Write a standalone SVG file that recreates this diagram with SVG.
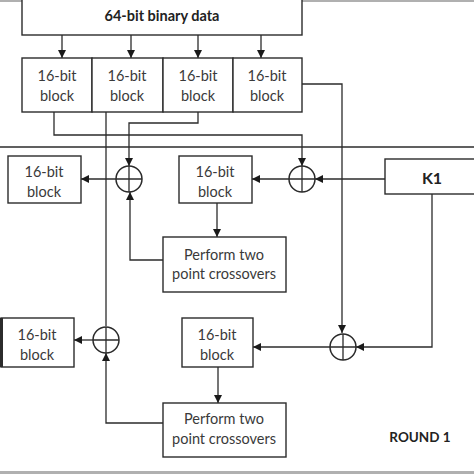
<svg xmlns="http://www.w3.org/2000/svg" width="474" height="474" viewBox="0 0 474 474">
  <style>
    .box { fill: #ffffff; stroke: #2b2b2b; stroke-width: 1.4; }
    .wire { fill: none; stroke: #2b2b2b; stroke-width: 1.3; }
    .arr { marker-end: url(#head); }
    .xor { fill: #ffffff; stroke: #2b2b2b; stroke-width: 1.5; }
    .lbl { font-family: Lato, "Open Sans", "Liberation Sans", sans-serif; font-size: 14.5px; fill: #3a3a3a; text-anchor: middle; }
    .bold { font-weight: bold; fill: #222222; }
  </style>
  <defs>
    <marker id="head" viewBox="0 0 10 10" refX="10" refY="5" markerWidth="8" markerHeight="8" markerUnits="userSpaceOnUse" orient="auto">
      <path d="M0,0 L10,5 L0,10 z" fill="#1a1a1a"/>
    </marker>
  </defs>
  <rect width="474" height="474" fill="#ffffff"/>
  <!-- frame bands -->
  <rect x="0" y="0" width="474" height="2" fill="#b0b0b0"/>
  <rect x="0" y="471" width="474" height="3" fill="#b0b0b0"/>
  <!-- round separator -->
  <line x1="0" y1="147" x2="474" y2="147" stroke="#2b2b2b" stroke-width="1.3"/>

  <g id="connectors">
    <!-- data to blocks -->
    <line class="wire arr" x1="62" y1="35" x2="62" y2="58"/>
    <line class="wire arr" x1="131" y1="35" x2="131" y2="58"/>
    <line class="wire arr" x1="198" y1="35" x2="198" y2="58"/>
    <line class="wire arr" x1="261" y1="35" x2="261" y2="58"/>
    <!-- block 1 to upper right xor -->
    <polyline class="wire arr" points="54,112 54,135 302,135 302,166"/>
    <!-- block 3 to upper left xor -->
    <polyline class="wire arr" points="198,112 198,123 129,123 129,166"/>
    <!-- block 2 to lower left xor -->
    <line class="wire" x1="106" y1="112" x2="106" y2="326"/>
    <!-- block 4 to lower right xor -->
    <polyline class="wire arr" points="302,84 342,84 342,333"/>
    <!-- K1 to upper right xor -->
    <line class="wire arr" x1="385" y1="179" x2="315" y2="179"/>
    <!-- K1 to lower right xor -->
    <polyline class="wire arr" points="432,194 432,347 356,347"/>
    <!-- upper xors -->
    <line class="wire arr" x1="289" y1="179" x2="252" y2="179"/>
    <line class="wire arr" x1="116" y1="179" x2="81" y2="179"/>
    <line class="wire arr" x1="217" y1="203" x2="217" y2="237"/>
    <polyline class="wire arr" points="163,260 130,260 130,192"/>
    <!-- lower xors -->
    <line class="wire arr" x1="330" y1="347" x2="253" y2="347"/>
    <line class="wire arr" x1="93" y1="340" x2="74" y2="340"/>
    <line class="wire arr" x1="218" y1="367" x2="218" y2="403"/>
    <polyline class="wire arr" points="163,423 106,423 106,353"/>
  </g>

  <g id="data">
    <rect class="box" x="22" y="-2" width="280" height="37"/>
    <text class="lbl bold" x="162" y="21">64-bit binary data</text>
  </g>
  <g id="block-a">
    <rect class="box" x="22" y="58" width="70" height="54"/>
    <text class="lbl" x="57" y="81">16-bit</text>
    <text class="lbl" x="57" y="101">block</text>
  </g>
  <g id="block-b">
    <rect class="box" x="92" y="58" width="71" height="54"/>
    <text class="lbl" x="127" y="81">16-bit</text>
    <text class="lbl" x="127" y="101">block</text>
  </g>
  <g id="block-c">
    <rect class="box" x="163" y="58" width="70" height="54"/>
    <text class="lbl" x="198" y="81">16-bit</text>
    <text class="lbl" x="198" y="101">block</text>
  </g>
  <g id="block-d">
    <rect class="box" x="233" y="58" width="69" height="54"/>
    <text class="lbl" x="267" y="81">16-bit</text>
    <text class="lbl" x="267" y="101">block</text>
  </g>

  <g id="key">
    <rect class="box" x="385" y="159" width="95" height="35"/>
    <text class="lbl bold" x="432" y="184" style="font-size:16px">K1</text>
  </g>

  <g id="xor-1">
    <circle class="xor" cx="129" cy="179" r="13"/>
    <path class="wire" d="M116,179 H142 M129,166 V192"/>
  </g>
  <g id="xor-2">
    <circle class="xor" cx="302" cy="179" r="13"/>
    <path class="wire" d="M289,179 H315 M302,166 V192"/>
  </g>
  <g id="xor-3">
    <circle class="xor" cx="343" cy="347" r="13"/>
    <path class="wire" d="M330,347 H356 M343,334 V360"/>
  </g>
  <g id="xor-4">
    <circle class="xor" cx="106" cy="340" r="13"/>
    <path class="wire" d="M93,340 H119 M106,327 V353"/>
  </g>

  <g id="out-block-1">
    <rect class="box" x="8" y="156" width="73" height="47"/>
    <text class="lbl" x="44" y="177">16-bit</text>
    <text class="lbl" x="44" y="197">block</text>
  </g>
  <g id="mid-block-1">
    <rect class="box" x="179" y="156" width="73" height="47"/>
    <text class="lbl" x="215" y="177">16-bit</text>
    <text class="lbl" x="215" y="197">block</text>
  </g>
  <g id="crossover-1">
    <rect class="box" x="163" y="237" width="123" height="55"/>
    <text class="lbl" x="224" y="260">Perform two</text>
    <text class="lbl" x="224" y="279">point crossovers</text>
  </g>

  <g id="out-block-2">
    <rect class="box" x="1" y="318" width="73" height="49"/>
    <rect x="0" y="318" width="3" height="49" fill="#2b2b2b"/>
    <text class="lbl" x="37" y="340">16-bit</text>
    <text class="lbl" x="37" y="360">block</text>
  </g>
  <g id="mid-block-2">
    <rect class="box" x="182" y="318" width="71" height="49"/>
    <text class="lbl" x="217" y="340">16-bit</text>
    <text class="lbl" x="217" y="360">block</text>
  </g>
  <g id="crossover-2">
    <rect class="box" x="163" y="403" width="123" height="54"/>
    <text class="lbl" x="224" y="424">Perform two</text>
    <text class="lbl" x="224" y="444">point crossovers</text>
  </g>

  <text class="lbl bold" x="420" y="442" style="font-size:13.5px">ROUND 1</text>
</svg>
